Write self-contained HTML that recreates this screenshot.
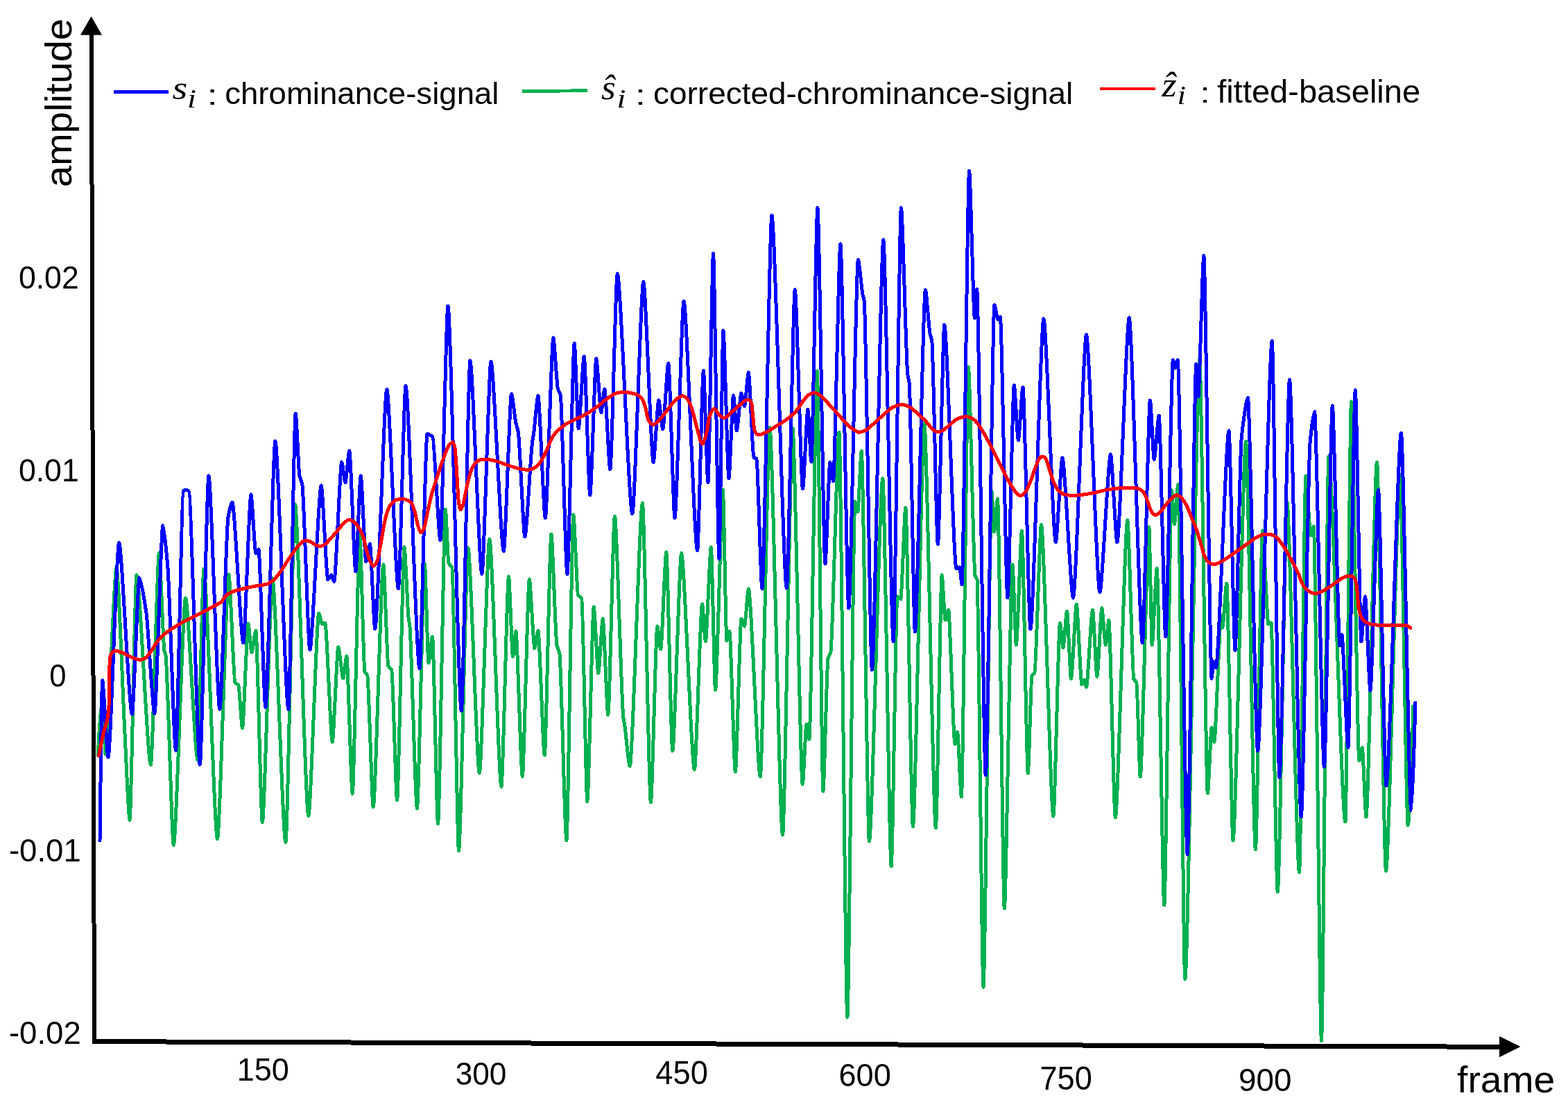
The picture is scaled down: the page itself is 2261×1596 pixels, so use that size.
<!DOCTYPE html>
<html lang="en"><head><meta charset="utf-8"><title>Chrominance signal baseline correction</title>
<style>html,body{margin:0;padding:0;background:#fff}body{width:2261px;height:1596px;overflow:hidden}svg{display:block}text{font-family:"Liberation Sans",sans-serif;fill:#000}.m{font-family:"Liberation Serif",serif;font-style:italic}</style></head>
<body>
<svg width="2261" height="1596" viewBox="0 0 2261 1596">
<rect width="2261" height="1596" fill="#fff"/>
<g fill="none" stroke-linejoin="round" stroke-linecap="round" shape-rendering="crispEdges">
<path stroke="#00B050" stroke-width="5.0" d="M141.3 1089.0C142.6 1051.0 146.2 1013.0 147.5 1013.0C148.5 1013.0 151.2 1088.0 152.2 1088.0C155.6 1088.0 164.6 817.9 168.0 817.9C170.6 817.9 177.4 1009.3 180.0 1058.0C181.5 1086.4 185.5 1182.3 187.0 1182.3C189.1 1182.3 194.8 828.9 197.0 828.9C201.4 828.9 212.9 1102.9 217.4 1102.9C220.0 1102.9 226.9 796.9 229.5 796.9C231.1 796.9 235.3 930.7 236.9 937.9C237.4 939.9 238.5 942.0 238.9 943.9C241.4 955.1 247.9 1218.5 250.3 1218.5C254.1 1218.5 263.8 862.0 267.5 862.0C271.3 862.0 281.3 1096.0 285.1 1096.0C287.0 1096.0 292.0 819.9 293.9 819.9C298.2 819.9 309.3 1209.5 313.5 1209.5C317.1 1209.5 326.3 827.9 329.9 827.9C331.8 827.9 336.9 981.2 338.9 983.9C340.0 985.4 342.8 986.3 343.9 987.9C345.1 989.7 348.3 1049.9 349.5 1049.9C351.3 1049.9 356.1 899.0 357.9 899.0C359.0 899.0 361.8 940.9 362.9 940.9C364.2 940.9 367.6 909.0 368.9 909.0C370.9 909.0 376.2 1185.5 378.3 1185.5C381.4 1185.5 389.7 833.8 392.9 833.8C397.0 833.8 407.7 1214.3 411.9 1214.3C414.8 1214.3 422.5 726.9 425.4 726.9C429.6 726.9 440.6 1176.3 444.8 1176.3C448.1 1176.3 456.6 884.0 459.8 884.0C460.9 884.0 463.7 900.0 464.8 900.0C465.7 900.0 468.0 898.0 468.8 898.0C471.1 898.0 477.0 1069.9 479.2 1069.9C481.1 1069.9 486.0 932.9 487.8 932.9C489.3 932.9 493.3 977.9 494.8 977.9C495.9 977.9 498.7 945.9 499.8 945.9C501.6 945.9 506.4 1144.3 508.2 1144.3C510.5 1144.3 516.5 769.9 518.8 769.9C520.3 769.9 524.3 963.9 525.8 967.9C526.7 970.2 528.9 971.7 529.8 973.9C531.6 978.6 536.4 1163.5 538.2 1163.5C541.4 1163.5 549.6 813.9 552.8 813.9C554.3 813.9 558.3 956.7 559.8 959.9C560.9 962.3 563.7 963.6 564.8 965.9C566.5 969.6 570.9 1153.5 572.6 1153.5C574.8 1153.5 580.7 788.9 583.0 788.9C584.3 788.9 587.7 877.9 589.0 889.9C589.4 893.9 590.5 899.7 591.0 903.9C593.2 925.8 599.1 1165.5 601.4 1165.5C603.7 1165.5 610.0 812.9 612.4 812.9C613.6 812.9 616.7 955.9 618.0 955.9C619.2 955.9 622.3 917.9 623.5 917.9C625.3 917.9 629.8 1187.5 631.5 1187.5C633.9 1187.5 640.0 734.0 642.3 734.0C643.3 734.0 645.9 809.7 646.9 811.9C648.0 814.4 650.9 815.6 651.9 817.9C654.0 822.3 659.5 1226.9 661.5 1226.9C664.4 1226.9 672.0 789.9 674.9 789.9C678.5 789.9 687.8 1114.9 691.3 1114.9C694.5 1114.9 702.7 777.0 705.9 777.0C709.6 777.0 719.2 1134.3 722.9 1134.3C725.2 1134.3 731.2 830.9 733.5 830.9C734.8 830.9 738.2 946.9 739.5 946.9C740.4 946.9 742.9 909.9 743.9 909.9C745.9 909.9 751.2 1119.5 753.3 1119.5C755.4 1119.5 761.1 834.9 763.3 834.9C764.9 834.9 769.2 934.9 770.9 934.9C772.0 934.9 774.8 908.9 775.9 908.9C777.9 908.9 783.2 1088.9 785.3 1088.9C787.3 1088.9 792.8 770.0 794.9 770.0C796.6 770.0 801.1 921.5 802.9 929.9C803.7 934.1 806.0 937.7 806.9 941.9C809.0 952.4 814.7 1211.9 816.9 1211.9C819.0 1211.9 824.7 742.0 826.8 742.0C828.3 742.0 832.0 855.5 833.4 857.9C834.6 859.9 837.7 860.9 838.8 862.9C840.6 865.9 845.1 1155.9 846.8 1155.9C848.9 1155.9 854.2 874.9 856.2 874.9C857.7 874.9 861.4 970.9 862.8 970.9C864.2 970.9 867.8 891.9 869.2 891.9C870.9 891.9 875.2 1031.0 876.8 1031.0C878.9 1031.0 884.3 744.0 886.4 744.0C889.1 744.0 896.1 1011.5 898.8 1034.0C899.2 1037.6 900.4 1043.1 900.8 1046.0C902.4 1056.7 906.6 1104.9 908.2 1104.9C912.1 1104.9 922.5 725.0 926.4 725.0C929.0 725.0 935.8 1156.9 938.4 1156.9C940.4 1156.9 945.8 902.9 947.8 902.9C948.9 902.9 951.7 935.9 952.8 935.9C954.5 935.9 959.0 795.9 960.8 795.9C962.7 795.9 967.8 1082.9 969.8 1082.9C972.5 1082.9 979.8 797.5 982.6 797.5C986.6 797.5 997.3 1109.5 1001.4 1109.5C1003.8 1109.5 1010.1 870.9 1012.6 870.9C1013.6 870.9 1016.3 925.0 1017.4 925.0C1019.1 925.0 1023.6 788.9 1025.3 788.9C1026.7 788.9 1030.2 994.9 1031.5 994.9C1033.9 994.9 1040.0 705.9 1042.3 705.9C1043.6 705.9 1046.7 924.0 1047.9 924.0C1048.8 924.0 1051.1 910.0 1051.9 910.0C1053.8 910.0 1058.5 1112.9 1060.3 1112.9C1062.2 1112.9 1067.1 892.0 1068.9 892.0C1069.9 892.0 1072.5 903.0 1073.5 903.0C1074.8 903.0 1078.1 848.9 1079.3 848.9C1083.0 848.9 1092.6 1119.9 1096.3 1119.9C1099.3 1119.9 1107.0 616.0 1109.9 616.0C1113.9 616.0 1124.5 1204.0 1128.5 1204.0C1131.6 1204.0 1139.8 617.0 1142.9 617.0C1146.0 617.0 1154.2 1130.9 1157.3 1130.9C1158.5 1130.9 1161.7 1043.9 1162.9 1043.9C1163.7 1043.9 1166.0 1065.9 1166.9 1065.9C1169.3 1065.9 1175.8 534.9 1178.3 534.9C1180.1 534.9 1185.0 1140.9 1186.9 1140.9C1188.4 1140.9 1192.3 956.4 1193.9 950.0C1194.7 946.3 1197.0 943.4 1197.9 940.0C1200.5 929.5 1207.3 623.0 1209.9 623.0C1212.5 623.0 1219.3 1466.9 1221.8 1466.9C1224.2 1466.9 1230.5 722.9 1232.8 722.9C1233.7 722.9 1236.0 737.9 1236.8 737.9C1238.0 737.9 1241.1 650.0 1242.2 650.0C1244.7 650.0 1251.0 1213.0 1253.4 1213.0C1257.6 1213.0 1268.6 689.9 1272.8 689.9C1275.5 689.9 1282.5 1249.0 1285.2 1249.0C1287.1 1249.0 1292.0 859.9 1293.8 859.9C1294.9 859.9 1297.7 863.9 1298.8 863.9C1300.3 863.9 1304.3 731.9 1305.8 731.9C1308.1 731.9 1314.1 1191.8 1316.4 1191.8C1320.0 1191.8 1329.2 610.0 1332.8 610.0C1336.4 610.0 1345.8 1193.8 1349.4 1193.8C1351.3 1193.8 1356.3 828.9 1358.2 828.9C1359.2 828.9 1361.9 894.0 1363.0 894.0C1364.0 894.0 1366.6 879.0 1367.6 879.0C1369.6 879.0 1374.9 1072.9 1377.0 1072.9C1377.8 1072.9 1379.8 1055.5 1380.6 1055.5C1381.8 1055.5 1385.1 1149.0 1386.4 1149.0C1388.5 1149.0 1394.2 528.9 1396.4 528.9C1398.4 528.9 1403.9 823.1 1406.0 829.9C1406.6 832.0 1408.3 833.7 1409.0 835.8C1410.9 842.4 1416.0 1423.5 1418.0 1423.5C1420.5 1423.5 1427.3 707.9 1429.9 707.9C1430.7 707.9 1432.8 766.9 1433.5 766.9C1434.6 766.9 1437.5 718.9 1438.5 718.9C1440.7 718.9 1446.2 1309.9 1448.3 1309.9C1450.8 1309.9 1457.4 813.9 1459.9 813.9C1461.1 813.9 1464.2 930.0 1465.3 930.0C1467.1 930.0 1471.7 765.5 1473.5 765.5C1475.4 765.5 1480.4 1114.9 1482.3 1114.9C1483.5 1114.9 1486.7 976.1 1487.9 973.9C1488.8 972.3 1491.0 971.4 1491.9 969.9C1494.0 966.4 1499.4 756.5 1501.5 756.5C1505.3 756.5 1515.1 1177.0 1518.9 1177.0C1521.0 1177.0 1526.4 898.0 1528.5 898.0C1529.4 898.0 1531.9 933.9 1532.9 933.9C1534.1 933.9 1537.3 881.0 1538.5 881.0C1539.8 881.0 1543.2 978.9 1544.5 978.9C1546.2 978.9 1550.6 871.0 1552.3 871.0C1553.9 871.0 1558.2 986.9 1559.9 986.9C1560.5 986.9 1562.2 979.9 1562.9 979.9C1563.7 979.9 1565.7 990.9 1566.5 990.9C1568.4 990.9 1573.5 879.0 1575.5 879.0C1576.9 879.0 1580.5 975.5 1581.9 975.5C1583.4 975.5 1587.3 876.6 1588.9 876.6C1590.0 876.6 1593.1 930.0 1594.3 930.0C1595.3 930.0 1597.9 894.0 1598.9 894.0C1600.9 894.0 1606.2 1179.0 1608.3 1179.0C1612.1 1179.0 1622.0 749.9 1625.8 749.9C1627.8 749.9 1632.9 974.8 1634.8 978.9C1635.7 980.8 1638.0 981.9 1638.8 983.9C1640.0 986.6 1643.1 1119.9 1644.2 1119.9C1647.0 1119.9 1654.1 759.9 1656.8 759.9C1657.8 759.9 1660.3 930.0 1661.2 930.0C1662.7 930.0 1666.7 819.5 1668.2 819.5C1670.5 819.5 1676.5 1304.9 1678.8 1304.9C1681.1 1304.9 1687.1 706.9 1689.4 706.9C1690.3 706.9 1692.5 755.9 1693.4 755.9C1694.6 755.9 1697.6 698.3 1698.8 698.3C1701.0 698.3 1706.6 1411.9 1708.8 1411.9C1713.4 1411.9 1725.2 517.9 1729.8 517.9C1732.3 517.9 1738.9 1143.8 1741.4 1143.8C1742.6 1143.8 1745.9 1048.9 1747.2 1048.9C1748.0 1048.9 1750.0 1069.9 1750.8 1069.9C1753.0 1069.9 1758.6 888.0 1760.8 888.0C1761.2 888.0 1762.3 905.0 1762.8 905.0C1764.1 905.0 1767.5 841.0 1768.8 841.0C1770.8 841.0 1776.0 1211.9 1778.0 1211.9C1782.0 1211.9 1792.5 636.3 1796.6 636.3C1799.6 636.3 1807.4 1224.9 1810.4 1224.9C1812.6 1224.9 1818.3 764.9 1820.5 764.9C1822.4 764.9 1827.1 899.9 1828.9 899.9C1829.8 899.9 1832.1 897.9 1832.9 897.9C1835.0 897.9 1840.3 1286.0 1842.3 1286.0C1845.3 1286.0 1853.0 724.0 1855.9 724.0C1859.7 724.0 1869.7 1257.8 1873.5 1257.8C1875.6 1257.8 1880.9 686.0 1882.9 686.0C1884.4 686.0 1888.4 771.9 1889.9 771.9C1890.9 771.9 1893.4 758.9 1894.3 758.9C1896.7 758.9 1903.1 1500.9 1905.5 1500.9C1907.8 1500.9 1913.6 657.8 1915.9 657.8C1921.1 657.8 1934.7 1184.9 1939.9 1184.9C1941.8 1184.9 1946.6 578.9 1948.5 578.9C1951.0 578.9 1957.4 1096.9 1959.9 1096.9C1960.8 1096.9 1963.3 1077.9 1964.3 1077.9C1965.5 1077.9 1968.7 1177.9 1969.9 1177.9C1973.3 1177.9 1982.1 666.0 1985.5 666.0C1988.3 666.0 1995.6 1255.8 1998.5 1255.8C2002.9 1255.8 2014.4 684.0 2018.9 684.0C2021.3 684.0 2027.8 1189.9 2030.2 1189.9C2031.9 1189.9 2036.2 1099.3 2037.8 1018.0"/>
<path stroke="#0000FF" stroke-width="5.0" d="M144.0 1211.9C144.8 1143.7 146.8 980.9 147.6 980.9C149.4 980.9 154.2 1091.9 156.0 1091.9C159.4 1091.9 168.2 782.3 171.6 782.3C175.6 782.3 186.3 1029.9 190.4 1029.9C192.7 1029.9 198.7 832.8 201.0 832.8C203.1 832.8 208.8 868.6 211.0 884.0C213.6 902.4 220.3 1028.9 222.9 1028.9C225.5 1028.9 232.3 756.9 234.9 756.9C236.5 756.9 240.4 799.4 241.9 817.9C244.5 848.4 251.0 1082.0 253.5 1082.0C255.9 1082.0 262.0 709.5 264.3 707.9C265.1 707.4 267.1 706.5 267.9 706.5C268.9 706.5 271.4 707.4 272.3 707.9C275.8 709.7 284.9 1102.3 288.3 1102.3C291.0 1102.3 298.2 685.9 300.9 685.9C304.4 685.9 313.4 1022.9 316.9 1022.9C319.5 1022.9 326.3 761.1 328.9 745.9C330.2 738.3 333.6 723.9 334.9 723.9C338.4 723.9 347.4 927.0 350.9 927.0C353.3 927.0 359.5 712.9 361.9 712.9C363.4 712.9 367.4 797.9 368.9 797.9C369.7 797.9 372.0 791.9 372.9 791.9C375.0 791.9 380.7 1019.9 382.9 1019.9C385.9 1019.9 393.8 635.9 396.9 635.9C401.0 635.9 411.7 1022.9 415.9 1022.9C418.1 1022.9 424.0 596.0 426.2 596.0C427.5 596.0 430.6 680.0 431.8 685.9C432.7 690.1 435.0 693.8 435.8 697.9C438.2 709.2 444.5 936.9 446.8 936.9C450.4 936.9 459.7 699.9 463.2 699.9C465.3 699.9 470.7 835.8 472.8 835.8C473.9 835.8 476.7 828.9 477.8 828.9C478.7 828.9 481.0 838.8 481.8 838.8C484.2 838.8 490.4 665.9 492.8 665.9C493.9 665.9 496.7 695.9 497.8 695.9C499.1 695.9 502.5 649.9 503.8 649.9C505.8 649.9 510.9 823.9 512.8 823.9C514.4 823.9 518.6 685.9 520.2 685.9C521.8 685.9 526.2 809.9 527.8 809.9C529.0 809.9 532.2 783.9 533.4 783.9C535.0 783.9 539.2 907.0 540.8 907.0C544.5 907.0 554.1 561.0 557.8 561.0C561.4 561.0 570.8 848.9 574.4 848.9C576.7 848.9 582.7 555.9 585.0 555.9C589.3 555.9 600.6 963.9 605.0 963.9C607.3 963.9 613.6 625.5 616.0 625.5C617.7 625.5 622.2 628.1 623.9 629.9C626.3 632.3 632.6 779.0 634.9 779.0C637.3 779.0 643.6 441.0 645.9 441.0C650.1 441.0 661.1 1025.0 665.3 1025.0C668.1 1025.0 675.2 519.9 677.9 519.9C681.6 519.9 691.2 827.9 694.9 827.9C697.7 827.9 705.1 520.9 707.9 520.9C711.9 520.9 722.3 794.9 726.3 794.9C728.7 794.9 735.1 567.9 737.5 567.9C738.9 567.9 742.5 603.4 743.9 609.9C744.6 613.3 746.6 618.7 747.3 622.9C749.4 634.5 754.8 774.0 756.9 774.0C759.2 774.0 765.2 655.2 767.5 637.9C767.9 634.6 769.0 628.9 769.5 625.9C770.9 616.3 774.5 570.3 775.9 570.3C778.1 570.3 784.0 747.0 786.3 747.0C788.8 747.0 795.3 486.9 797.9 486.9C799.2 486.9 802.9 554.5 804.3 559.9C805.1 563.3 807.4 566.3 808.3 569.9C810.3 578.4 815.8 827.9 817.9 827.9C820.1 827.9 826.0 494.9 828.2 494.9C829.5 494.9 832.9 617.9 834.2 617.9C836.0 617.9 840.5 513.9 842.2 513.9C844.1 513.9 849.0 714.0 850.8 714.0C852.8 714.0 857.9 516.9 859.8 516.9C861.3 516.9 865.3 594.9 866.8 594.9C867.9 594.9 870.7 560.9 871.8 560.9C873.6 560.9 878.1 676.9 879.8 676.9C882.1 676.9 888.0 394.4 890.2 394.4C894.9 394.4 907.1 741.0 911.8 741.0C915.3 741.0 924.3 406.0 927.8 406.0C930.9 406.0 939.1 666.9 942.2 666.9C943.8 666.9 948.1 576.9 949.8 576.9C951.1 576.9 954.5 618.9 955.8 618.9C957.5 618.9 962.0 523.5 963.8 523.5C965.8 523.5 971.0 746.9 973.0 746.9C975.8 746.9 983.2 433.9 986.0 433.9C990.2 433.9 1001.3 793.9 1005.6 793.9C1007.5 793.9 1012.4 534.3 1014.4 534.3C1015.8 534.3 1019.5 695.9 1020.9 695.9C1022.6 695.9 1026.9 365.6 1028.5 365.6C1030.4 365.6 1035.1 805.9 1036.9 805.9C1038.2 805.9 1041.6 476.3 1042.9 476.3C1044.7 476.3 1049.2 689.9 1050.9 689.9C1052.4 689.9 1056.1 569.9 1057.5 569.9C1058.6 569.9 1061.3 621.0 1062.3 621.0C1063.8 621.0 1067.5 566.9 1068.9 566.9C1069.9 566.9 1072.5 585.8 1073.5 585.8C1074.8 585.8 1078.1 536.9 1079.3 536.9C1081.0 536.9 1085.3 659.2 1086.9 660.0C1087.8 660.3 1090.0 660.6 1090.9 661.0C1092.6 661.7 1097.2 848.9 1098.9 848.9C1101.9 848.9 1109.9 310.4 1112.9 310.4C1117.5 310.4 1129.7 847.9 1134.3 847.9C1136.9 847.9 1143.7 417.5 1146.3 417.5C1148.7 417.5 1155.1 704.9 1157.5 704.9C1159.1 704.9 1163.3 590.0 1164.9 590.0C1166.0 590.0 1168.8 666.0 1169.9 666.0C1171.8 666.0 1176.9 299.4 1178.9 299.4C1181.3 299.4 1187.5 812.9 1189.9 812.9C1191.4 812.9 1195.3 666.4 1196.9 666.4C1197.9 666.4 1200.5 693.9 1201.5 693.9C1203.7 693.9 1209.6 351.6 1211.9 351.6C1214.5 351.6 1221.2 876.9 1223.8 876.9C1226.8 876.9 1234.5 374.4 1237.4 374.4C1238.8 374.4 1242.5 416.7 1243.8 423.9C1244.4 426.6 1245.7 430.6 1246.2 433.9C1248.7 449.7 1255.0 966.0 1257.4 966.0C1261.0 966.0 1270.3 345.6 1273.8 345.6C1276.9 345.6 1285.1 925.0 1288.2 925.0C1290.6 925.0 1297.0 299.4 1299.4 299.4C1301.4 299.4 1306.8 524.8 1308.8 539.9C1309.3 543.7 1310.7 547.8 1311.2 551.9C1313.0 565.8 1317.6 911.0 1319.4 911.0C1322.6 911.0 1331.1 417.9 1334.4 417.9C1335.8 417.9 1339.4 472.4 1340.8 479.9C1341.4 483.4 1343.1 487.8 1343.8 491.9C1345.7 503.7 1350.5 784.9 1352.4 784.9C1354.4 784.9 1359.7 468.3 1361.8 468.3C1365.5 468.3 1375.2 819.9 1379.0 819.9C1380.1 819.9 1382.9 817.9 1384.0 817.9C1384.6 817.9 1386.3 843.0 1387.0 843.0C1389.3 843.0 1395.3 246.4 1397.6 246.4C1399.3 246.4 1403.7 458.9 1405.4 458.9C1406.1 458.9 1407.9 416.9 1408.6 416.9C1411.3 416.9 1418.6 1117.9 1421.3 1117.9C1424.1 1117.9 1431.2 439.5 1433.9 439.5C1435.0 439.5 1437.9 460.9 1438.9 460.9C1439.7 460.9 1441.6 456.9 1442.3 456.9C1444.6 456.9 1450.6 862.0 1452.9 862.0C1455.0 862.0 1460.3 555.0 1462.3 555.0C1463.6 555.0 1467.0 634.9 1468.3 634.9C1469.8 634.9 1473.5 558.0 1474.9 558.0C1477.3 558.0 1483.5 907.0 1485.9 907.0C1490.0 907.0 1500.8 459.5 1504.9 459.5C1508.7 459.5 1518.5 781.9 1522.3 781.9C1524.4 781.9 1529.8 659.9 1531.9 659.9C1535.3 659.9 1544.1 862.0 1547.5 862.0C1551.6 862.0 1562.4 482.5 1566.5 482.5C1570.7 482.5 1581.7 854.0 1585.9 854.0C1589.2 854.0 1598.1 654.9 1601.5 654.9C1603.5 654.9 1608.8 781.9 1610.9 781.9C1614.6 781.9 1624.5 457.9 1628.2 457.9C1632.4 457.9 1643.3 927.0 1647.4 927.0C1649.8 927.0 1656.0 577.0 1658.4 577.0C1659.7 577.0 1663.0 662.9 1664.2 662.9C1665.7 662.9 1669.7 599.0 1671.2 599.0C1673.3 599.0 1678.7 918.0 1680.8 918.0C1683.1 918.0 1689.1 518.9 1691.4 518.9C1692.1 518.9 1693.8 530.8 1694.4 530.8C1695.2 530.8 1697.4 518.9 1698.2 518.9C1701.2 518.9 1709.2 1231.9 1712.2 1231.9C1714.9 1231.9 1722.1 524.9 1724.8 524.9C1725.4 524.9 1727.1 572.0 1727.8 572.0C1729.5 572.0 1734.1 368.3 1735.8 368.3C1738.3 368.3 1744.7 978.3 1747.2 978.3C1747.7 978.3 1749.2 953.9 1749.8 953.9C1750.6 953.9 1752.6 962.9 1753.4 962.9C1757.4 962.9 1767.9 620.9 1772.0 620.9C1773.9 620.9 1779.0 937.9 1781.0 937.9C1782.9 937.9 1788.0 655.0 1790.0 633.9C1792.0 611.8 1797.3 573.5 1799.4 573.5C1802.4 573.5 1810.5 1082.9 1813.6 1082.9C1818.1 1082.9 1829.8 491.5 1834.3 491.5C1836.6 491.5 1842.6 1120.9 1844.9 1120.9C1848.1 1120.9 1856.4 547.5 1859.5 547.5C1863.2 547.5 1872.7 1177.9 1876.3 1177.9C1879.1 1177.9 1886.2 670.5 1888.9 639.9C1890.3 623.8 1894.1 593.5 1895.5 593.5C1898.5 593.5 1906.5 1105.9 1909.5 1105.9C1912.1 1105.9 1918.7 584.9 1921.3 584.9C1923.6 584.9 1929.6 930.9 1931.9 930.9C1932.5 930.9 1934.2 914.9 1934.9 914.9C1936.8 914.9 1941.9 1077.9 1943.9 1077.9C1946.1 1077.9 1952.0 562.5 1954.3 562.5C1956.1 562.5 1961.0 924.9 1962.9 924.9C1964.1 924.9 1967.3 859.9 1968.5 859.9C1970.1 859.9 1974.3 995.6 1975.9 995.6C1978.4 995.6 1985.0 706.0 1987.5 706.0C1989.9 706.0 1996.4 1132.9 1998.9 1132.9C2003.5 1132.9 2015.8 624.5 2020.4 624.5C2023.6 624.5 2031.7 1168.9 2034.8 1168.9C2036.1 1168.9 2039.5 1071.1 2040.8 1013.0"/>
<path stroke="#FF0000" stroke-width="5.0" d="M142.3 1089.3C144.7 1078.4 147.1 1067.1 149.5 1055.5C152.0 1043.4 154.5 1048.7 157.0 1018.0C157.1 1016.4 157.3 1003.7 157.4 995.0C157.5 986.3 157.7 969.3 157.8 965.0C158.1 956.4 158.3 951.8 158.6 950.0C159.3 945.0 160.1 943.0 160.8 942.0C162.5 939.7 164.3 938.2 166.0 938.2C169.0 938.2 172.0 939.5 175.0 940.5C178.5 941.7 182.1 944.1 185.6 945.7C189.1 947.3 192.5 949.1 196.0 950.0C198.1 950.6 200.1 951.3 202.2 951.3C204.7 951.3 207.2 950.0 209.7 948.7C212.2 947.4 214.7 943.0 217.2 939.7C220.2 935.7 223.2 929.9 226.2 926.0C229.2 922.0 232.3 918.3 235.3 915.6C240.3 911.1 245.3 908.2 250.3 905.0C255.3 901.8 260.3 898.7 265.3 896.0C270.3 893.3 275.4 891.1 280.4 888.6C285.4 886.1 290.4 883.6 295.4 881.0C300.4 878.4 305.5 875.6 310.5 872.8C313.3 871.2 316.2 870.3 319.0 868.0C321.5 866.0 324.0 860.2 326.5 858.2C329.5 855.8 332.6 854.2 335.6 853.0C341.1 850.9 346.5 849.7 352.0 848.4C358.0 847.0 364.0 845.8 370.0 844.7C375.1 843.7 380.1 843.5 385.2 842.0C388.2 841.1 391.2 838.8 394.2 836.4C397.2 834.0 400.2 829.8 403.2 825.9C406.2 821.9 409.3 816.8 412.3 812.3C415.3 807.8 418.3 803.0 421.3 798.8C424.3 794.6 427.3 790.2 430.3 786.8C432.3 784.5 434.3 781.8 436.3 780.8C437.8 780.0 439.3 779.2 440.8 779.2C443.3 779.2 445.8 780.5 448.3 781.5C450.8 782.5 453.4 785.1 455.9 786.0C457.9 786.7 459.9 787.5 461.9 787.5C463.9 787.5 465.9 786.4 467.9 785.3C470.4 784.0 472.9 780.4 475.4 777.7C478.9 773.9 482.5 769.8 486.0 765.7C489.0 762.3 492.0 758.1 495.0 755.2C496.7 753.5 498.5 751.5 500.2 750.7C501.5 750.1 502.7 749.5 504.0 749.5C506.0 749.5 508.0 750.9 510.0 752.2C512.5 753.8 515.0 757.4 517.5 761.2C519.5 764.2 521.5 767.8 523.5 773.2C525.0 777.3 526.5 786.0 528.0 791.3C529.8 797.5 531.5 804.1 533.3 807.8C535.1 811.5 536.8 816.1 538.6 816.1C540.3 816.1 542.1 812.9 543.8 809.3C545.3 806.2 546.8 796.0 548.3 788.3C550.1 779.3 551.8 766.9 553.6 758.2C555.1 750.8 556.6 742.8 558.1 738.6C560.1 733.0 562.1 728.9 564.1 726.6C566.6 723.7 569.2 721.2 571.7 720.6C574.5 719.9 577.2 719.4 580.0 719.4C582.7 719.4 585.5 720.3 588.2 721.4C590.2 722.2 592.2 723.8 594.2 726.6C595.7 728.7 597.2 734.9 598.7 740.2C600.2 745.5 601.7 755.4 603.2 759.7C604.5 763.3 605.7 768.0 607.0 768.0C608.5 768.0 610.0 764.6 611.5 761.2C613.3 757.2 615.0 745.0 616.8 737.1C618.5 729.4 620.3 720.9 622.0 714.4C624.5 705.1 627.0 698.2 629.5 690.4C632.0 682.6 634.5 675.0 637.0 667.8C639.0 662.1 641.0 655.9 643.0 651.3C644.8 647.2 646.5 642.6 648.3 640.8C649.8 639.3 651.4 637.7 652.9 637.7C653.9 637.7 654.9 640.9 655.9 645.3C656.5 648.1 657.2 659.0 657.8 667.8C658.4 676.1 659.0 688.7 659.6 697.9C660.2 707.1 660.8 719.5 661.4 723.5C662.3 729.5 663.2 734.7 664.1 734.7C665.4 734.7 666.6 730.3 667.9 726.5C669.2 722.7 670.4 714.2 671.7 708.4C673.2 701.6 674.7 694.1 676.2 688.9C677.9 682.8 679.7 677.0 681.4 673.8C683.7 669.6 685.9 665.9 688.2 664.8C691.2 663.3 694.2 662.1 697.2 662.1C701.2 662.1 705.2 662.7 709.2 663.3C714.2 664.0 719.3 666.2 724.3 667.8C729.3 669.4 734.3 671.6 739.3 673.1C743.8 674.4 748.4 675.9 752.9 676.5C755.9 676.9 758.9 677.3 761.9 677.3C764.4 677.3 766.9 676.3 769.4 675.3C771.9 674.3 774.4 672.0 776.9 669.3C779.4 666.6 781.9 662.0 784.4 657.3C786.4 653.5 788.5 648.4 790.5 643.8C792.5 639.3 794.5 633.4 796.5 630.2C799.0 626.2 801.5 623.7 804.0 621.2C808.0 617.3 812.0 613.9 816.0 611.4C821.5 607.9 827.1 606.0 832.6 603.2C837.6 600.7 842.6 598.5 847.6 595.6C852.6 592.7 857.6 588.8 862.6 585.1C867.6 581.4 872.7 576.4 877.7 573.1C881.2 570.8 884.7 568.0 888.2 567.1C891.7 566.2 895.2 565.3 898.7 565.3C904.1 565.3 909.6 566.4 915.0 567.8C918.5 568.7 922.1 570.7 925.6 574.6C927.3 576.5 929.1 582.3 930.8 588.0C932.1 592.2 933.3 602.3 934.6 604.7C936.9 608.9 939.1 612.2 941.4 612.2C943.6 612.2 945.8 610.1 948.0 608.4C952.0 605.4 956.0 598.8 960.0 594.0C965.0 588.0 970.0 579.7 975.0 576.0C978.1 573.7 981.1 570.8 984.2 570.8C986.7 570.8 989.2 573.3 991.7 576.0C993.7 578.2 995.7 584.0 997.7 589.6C1000.2 596.7 1002.8 609.7 1005.3 618.0C1007.8 626.2 1010.3 640.0 1012.8 640.0C1014.8 640.0 1016.8 631.2 1018.8 624.0C1020.3 618.6 1021.8 603.9 1023.3 600.0C1025.5 594.2 1027.8 589.0 1030.0 589.0C1032.3 589.0 1034.5 596.2 1036.8 598.0C1039.3 600.1 1041.9 602.4 1044.4 602.4C1047.4 602.4 1050.4 598.0 1053.4 595.6C1057.4 592.4 1061.4 588.1 1065.4 585.0C1069.7 581.7 1073.9 576.0 1078.2 576.0C1080.0 576.0 1081.7 577.5 1083.5 580.6C1084.2 581.9 1085.0 593.4 1085.7 600.0C1086.5 606.9 1087.2 619.4 1088.0 621.0C1090.0 625.1 1092.0 627.0 1094.0 627.0C1097.0 627.0 1100.0 625.3 1103.0 624.0C1108.0 621.9 1113.0 618.1 1118.0 615.0C1123.5 611.6 1129.1 608.7 1134.6 604.6C1139.1 601.3 1143.5 597.5 1148.0 592.6C1151.5 588.7 1155.1 581.9 1158.6 577.6C1161.1 574.5 1163.7 570.7 1166.2 569.3C1168.9 567.8 1171.7 566.3 1174.4 566.3C1177.2 566.3 1179.9 568.3 1182.7 570.0C1186.2 572.1 1189.7 576.9 1193.2 580.6C1198.2 585.9 1203.3 591.5 1208.3 597.0C1213.3 602.5 1218.3 609.4 1223.3 613.7C1226.8 616.7 1230.3 619.3 1233.8 621.2C1235.3 622.0 1236.8 623.2 1238.3 623.2C1241.5 623.2 1244.8 621.8 1248.0 620.5C1252.0 618.9 1256.0 614.1 1260.0 610.7C1265.0 606.4 1270.0 601.3 1275.0 597.1C1279.5 593.3 1284.1 588.5 1288.6 586.6C1292.6 585.0 1296.7 583.2 1300.7 583.2C1304.2 583.2 1307.7 585.0 1311.2 586.6C1315.2 588.4 1319.2 592.9 1323.2 596.4C1327.2 599.9 1331.3 603.5 1335.3 607.7C1338.3 610.8 1341.3 615.9 1344.3 618.2C1347.1 620.3 1349.8 623.0 1352.6 623.0C1355.3 623.0 1358.1 621.2 1360.8 619.7C1364.3 617.8 1367.9 613.4 1371.4 610.7C1374.9 608.0 1378.4 604.4 1381.9 603.2C1385.7 601.9 1389.4 600.6 1393.2 600.6C1396.4 600.6 1399.7 602.2 1402.9 603.9C1405.9 605.5 1409.0 609.7 1412.0 613.7C1415.0 617.6 1418.0 623.4 1421.0 628.7C1424.5 634.9 1428.0 641.5 1431.5 648.3C1435.0 655.1 1438.5 662.3 1442.0 669.3C1445.5 676.3 1449.1 684.0 1452.6 690.4C1455.6 695.8 1458.6 701.2 1461.6 705.4C1463.6 708.2 1465.6 711.7 1467.6 712.9C1469.1 713.8 1470.6 714.7 1472.1 714.7C1474.1 714.7 1476.1 712.1 1478.1 709.9C1480.6 707.1 1483.1 700.7 1485.6 694.9C1488.1 689.0 1490.7 680.1 1493.2 673.8C1495.2 668.8 1497.2 661.9 1499.2 660.3C1500.7 659.1 1502.2 658.0 1503.7 658.0C1505.2 658.0 1506.7 659.8 1508.2 661.8C1509.7 663.8 1511.2 670.8 1512.7 675.3C1514.7 681.3 1516.7 688.8 1518.7 693.4C1521.2 699.1 1523.7 704.5 1526.2 706.9C1529.2 709.9 1532.3 712.2 1535.3 712.9C1538.8 713.7 1542.3 714.4 1545.8 714.4C1550.8 714.4 1555.8 713.7 1560.8 713.2C1566.5 712.6 1572.3 711.5 1578.0 710.4C1584.5 709.2 1591.1 706.9 1597.6 705.9C1604.1 704.9 1610.6 703.9 1617.1 703.6C1622.1 703.4 1627.2 703.2 1632.2 703.2C1635.2 703.2 1638.2 703.7 1641.2 704.4C1643.7 705.0 1646.2 707.0 1648.7 709.6C1650.5 711.5 1652.2 715.9 1654.0 720.2C1655.5 723.8 1657.0 730.4 1658.5 733.7C1659.8 736.5 1661.0 739.5 1662.3 740.5C1663.5 741.5 1664.8 742.4 1666.0 742.4C1667.8 742.4 1669.5 740.9 1671.3 739.7C1673.8 738.0 1676.3 733.7 1678.8 730.7C1681.8 727.1 1684.8 723.2 1687.8 720.2C1689.8 718.2 1691.8 715.7 1693.8 714.9C1695.1 714.4 1696.3 713.8 1697.6 713.8C1699.4 713.8 1701.1 715.6 1702.9 717.1C1705.4 719.2 1707.9 723.3 1710.4 727.7C1712.9 732.1 1715.4 739.7 1717.9 745.7C1720.4 751.7 1722.9 756.8 1725.4 763.8C1727.4 769.4 1729.4 776.6 1731.4 783.3C1733.2 789.2 1734.9 797.7 1736.7 801.4C1738.7 805.6 1740.7 809.0 1742.7 810.4C1745.2 812.1 1747.7 813.7 1750.2 813.7C1753.0 813.7 1755.7 812.2 1758.5 811.1C1762.5 809.5 1766.5 806.2 1770.5 803.6C1775.5 800.3 1780.6 796.6 1785.6 793.1C1790.6 789.6 1795.6 786.1 1800.6 782.6C1804.6 779.8 1808.6 776.3 1812.6 774.3C1815.6 772.8 1818.7 771.2 1821.7 770.8C1824.2 770.4 1826.7 770.1 1829.2 770.1C1831.7 770.1 1834.2 771.0 1836.7 772.0C1839.7 773.2 1842.7 776.9 1845.7 780.3C1848.7 783.7 1851.7 788.9 1854.7 793.8C1857.7 798.8 1860.8 804.6 1863.8 810.4C1866.8 816.1 1869.8 821.5 1872.8 828.4C1874.4 832.0 1875.9 837.9 1877.5 840.7C1880.0 845.2 1882.5 848.5 1885.0 850.5C1887.5 852.6 1890.1 854.7 1892.6 855.0C1894.3 855.2 1896.1 855.4 1897.8 855.4C1900.5 855.4 1903.3 853.8 1906.0 852.7C1909.5 851.2 1913.1 848.9 1916.6 846.7C1920.1 844.5 1923.6 841.6 1927.1 839.2C1930.1 837.1 1933.2 834.6 1936.2 833.2C1938.7 832.0 1941.2 830.8 1943.7 830.5C1945.2 830.3 1946.7 830.2 1948.2 830.2C1949.7 830.2 1951.2 831.6 1952.7 833.2C1953.7 834.3 1954.7 836.5 1955.7 840.7C1956.2 842.8 1956.7 849.0 1957.2 854.2C1957.7 859.4 1958.2 868.6 1958.7 872.3C1959.5 878.0 1960.2 881.8 1961.0 884.3C1962.2 888.3 1963.5 891.0 1964.7 892.6C1966.7 895.2 1968.8 896.8 1970.8 897.8C1973.3 899.0 1975.8 899.8 1978.3 900.2C1982.3 900.8 1986.3 901.3 1990.3 901.3C1995.3 901.3 2000.3 901.3 2005.3 901.3C2010.3 901.3 2015.4 901.3 2020.4 901.3C2022.9 901.3 2025.4 901.6 2027.9 902.0C2029.9 902.3 2031.9 903.8 2033.9 905.3"/>
</g>
<g stroke="#000" fill="none" stroke-linecap="butt" shape-rendering="crispEdges">
<path d="M131.9 48 L136 1505" stroke-width="6"/>
<path d="M133 1501.6 L2164 1509.3" stroke-width="7"/>
</g>
<path d="M131.6 23.5 L147 50.4 L116 50.4 Z" fill="#000"/>
<path d="M2192.5 1509 L2162 1494 L2162 1524.3 Z" fill="#000"/>
<g fill="none" shape-rendering="crispEdges">
<path d="M164 132.3 H243" stroke="#0000FF" stroke-width="5"/>
<path d="M753 131.8 L847 130.6" stroke="#00B050" stroke-width="4.8"/>
<path d="M1586 127.9 H1666" stroke="#FF0000" stroke-width="4.6"/>
</g>
<g>
<text font-size="46" transform="matrix(0.9696 0 0 1.0000 26.93 415.90)">0.02</text>
<text font-size="46" transform="matrix(0.9696 0 0 1.0031 26.93 694.00)">0.01</text>
<text font-size="46" transform="matrix(0.9478 0 0 0.9969 71.15 990.00)">0</text>
<text font-size="46" transform="matrix(0.9905 0 0 1.0094 12.92 1242.20)">-0.01</text>
<text font-size="46" transform="matrix(0.9905 0 0 1.0094 12.92 1505.10)">-0.02</text>
<text font-size="46" transform="matrix(0.9797 0 0 1.0094 341.66 1558.40)">150</text>
<text font-size="46" transform="matrix(0.9600 0 0 1.0156 656.74 1564.30)">300</text>
<text font-size="46" transform="matrix(0.9843 0 0 1.0281 945.32 1563.20)">450</text>
<text font-size="46" transform="matrix(0.9800 0 0 1.0156 1209.54 1566.00)">600</text>
<text font-size="46" transform="matrix(0.9813 0 0 1.0281 1499.44 1570.70)">750</text>
<text font-size="46" transform="matrix(0.9950 0 0 1.0125 1786.01 1573.40)">900</text>
<text font-size="54" transform="matrix(1.0228 0 0 0.9925 2101.10 1574.81)">frame</text>
<text font-size="46" transform="matrix(1.2000 0 0 0.8840 298.60 150.90)">:</text>
<text font-size="46" transform="matrix(0.9913 0 0 0.9636 324.21 149.86)">chrominance-signal</text>
<text font-size="46" transform="matrix(1.2000 0 0 0.8840 915.70 150.90)">:</text>
<text font-size="46" transform="matrix(0.9993 0 0 0.9636 942.00 149.86)">corrected-chrominance-signal</text>
<text font-size="46" transform="matrix(1.1400 0 0 0.8840 1730.14 147.60)">:</text>
<text font-size="46" transform="matrix(1.0228 0 0 1.0029 1755.30 147.70)">fitted-baseline</text>
<text class="m" font-size="56" transform="matrix(1.0000 0 0 0.8857 248.50 143.21)">s</text>
<text class="m" font-size="38" transform="matrix(1.2250 0 0 1.0120 270.05 154.70)">i</text>
<text class="m" font-size="56" transform="matrix(0.9522 0 0 0.9098 867.00 143.19)">ŝ</text>
<text class="m" font-size="38" transform="matrix(1.2250 0 0 1.0120 889.45 154.70)">i</text>
<text class="m" font-size="56" transform="matrix(0.9833 0 0 0.9100 1675.18 139.40)">ẑ</text>
<text class="m" font-size="38" transform="matrix(1.1875 0 0 1.0040 1697.62 150.40)">i</text>
<text font-size="54" transform="matrix(0 -1.0386 1.0000 0 103.00 270.08)">amplitude</text>
</g>

</svg>
</body></html>
